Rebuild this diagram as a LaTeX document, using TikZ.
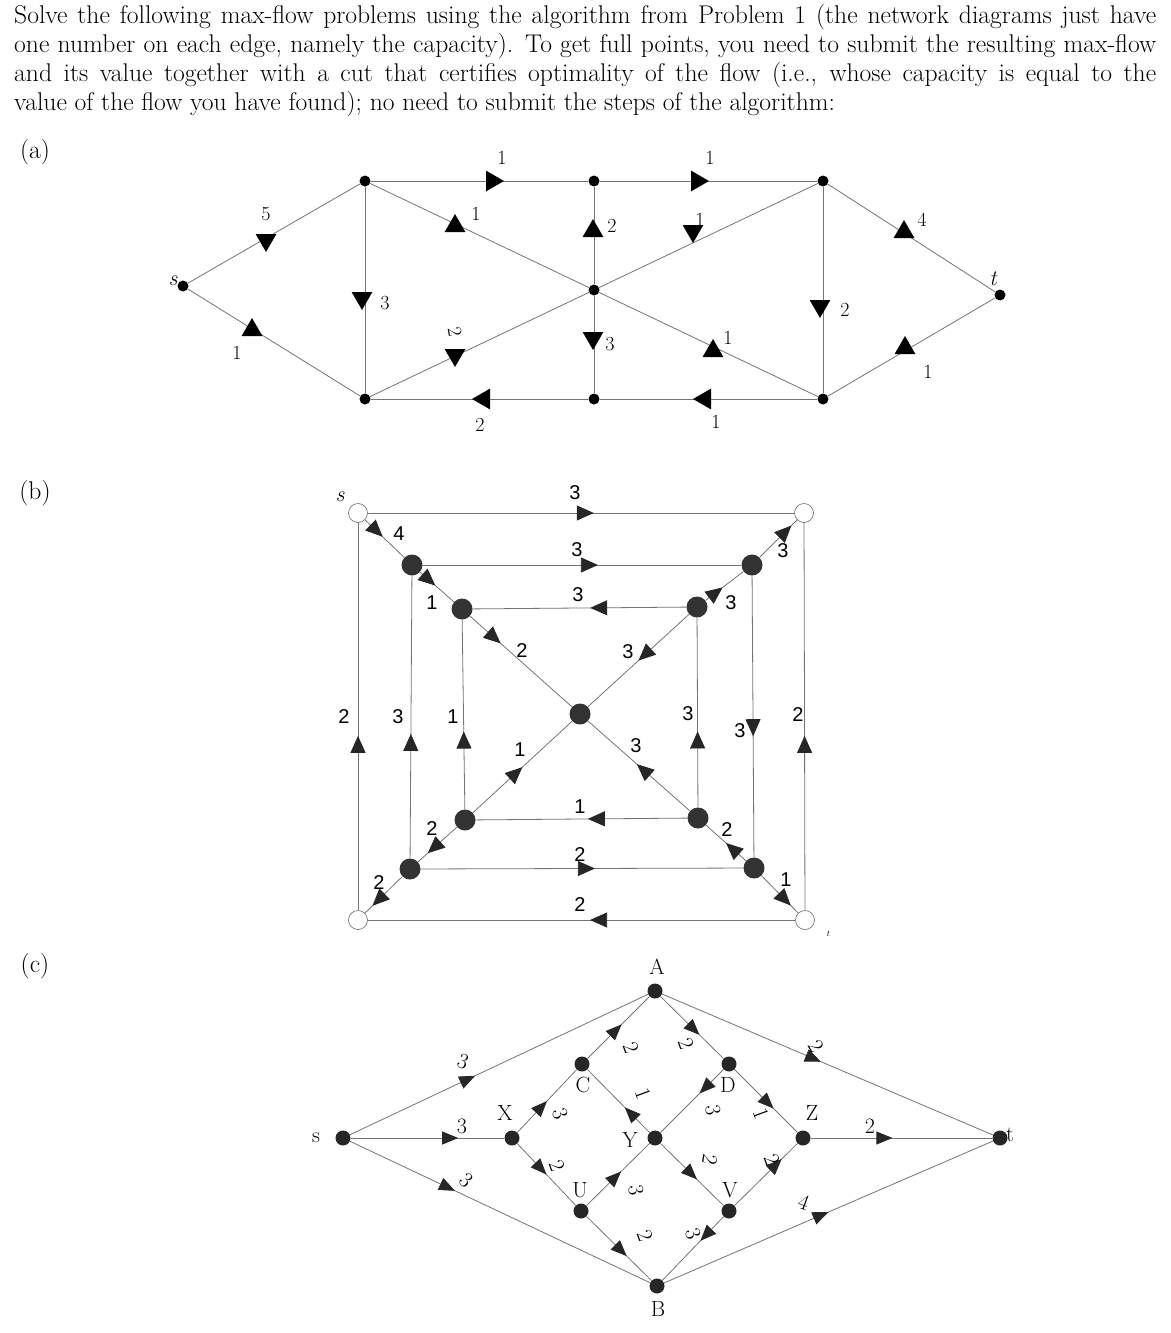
\documentclass[tikz,border=0pt]{standalone}
\usepackage{fontspec}
\newfontfamily\sans{Liberation Sans}
\usetikzlibrary{shapes.geometric,arrows.meta,decorations.markings}
\begin{document}
\begin{tikzpicture}[x=1pt,y=-1pt,
  dot/.style={circle,fill=black,inner sep=0,minimum size=11pt},
  bdot/.style={circle,fill=black!80,inner sep=0,minimum size=21pt},
  odot/.style={circle,draw=black!60,fill=white,inner sep=0,minimum size=19pt,line width=0.6pt},
  cdot/.style={circle,fill=black!85,inner sep=0,minimum size=15pt},
  tri/.style={regular polygon,regular polygon sides=3,fill=black,inner sep=0,minimum size=24pt},
  ed/.style={draw=black!55,line width=0.8pt},
  mk/.style={postaction={decorate,decoration={markings,mark=at position #1 with {\arrow[black!85]{Triangle[length=17pt,width=15pt]}}}}},
  mc/.style={postaction={decorate,decoration={markings,mark=at position #1 with {\arrow[black!85]{Triangle[length=16pt,width=13pt]}}}}},
  la/.style={font=\fontsize{20}{22}\selectfont},
  lb/.style={font=\sans\fontsize{20}{22}\selectfont},
  lc/.style={font=\fontsize{22}{24}\selectfont}]
\useasboundingbox (0,0) rectangle (1170,1333);
\node[anchor=north west,inner sep=0,text width=1142pt,align=justify,font=\fontsize{25.6}{29}\selectfont] (head) at (14,4)
{Solve the following max-flow problems using the algorithm from Problem 1 (the network diagrams just have\linebreak one number on each edge, namely the capacity). To get full points, you need to submit the resulting max-flow\linebreak and its value together with a cut that certifies optimality of the flow (i.e., whose capacity is equal to the\linebreak value of the flow you have found); no need to submit the steps of the algorithm:};
\node[font=\fontsize{25.6}{29}\selectfont] (pa) at (35,152) {(a)};
\node[font=\fontsize{25.6}{29}\selectfont] (pb) at (35,493) {(b)};
\node[font=\fontsize{25.6}{29}\selectfont] (pc) at (35,966) {(c)};

% ---------- (a)
\node[dot] (s) at (183,286) {};
\node[dot] (TL) at (365,181) {};
\node[dot] (BL) at (365,399) {};
\node[dot] (TM) at (594,181) {};
\node[dot] (CM) at (594,290) {};
\node[dot] (BM) at (594,399) {};
\node[dot] (TR) at (823,181) {};
\node[dot] (BR) at (823,399) {};
\node[dot] (t) at (1000,295) {};
\foreach \a/\b in {s/TL,s/BL,TL/BL,TL/TM,TL/CM,TM/CM,TM/TR,CM/TR,TR/t,TR/BR,CM/BL,CM/BM,CM/BR,BR/t,BM/BL,BR/BM}
  \draw[ed] (\a) -- (\b);
\node[la,font=\itshape\fontsize{22}{24}\selectfont] (ls) at (173,281) {s};
\node[la,font=\itshape\fontsize{22}{24}\selectfont] (lt) at (993,279) {t};
\node[tri,rotate=180] (a1) at (266,240) {}; \node[la] (b1) at (266,214) {5};
\node[tri] (a2) at (252,330) {}; \node[la] (b2) at (237,353) {1};
\node[tri,rotate=180] (a3) at (362,298) {}; \node[la] (b3) at (385,303) {3};
\node[tri,rotate=-90] (a4) at (492,181) {}; \node[la] (b4) at (502,158) {1};
\node[tri] (a5) at (455,226) {}; \node[la] (b5) at (476,214) {1};
\node[tri] (a6) at (593,231) {}; \node[la] (b6) at (612,226) {2};
\node[tri,rotate=-90] (a7) at (697,181) {}; \node[la] (b7) at (710,158) {1};
\node[tri,rotate=180] (a8) at (693,231) {}; \node[la] (b8) at (700,220) {1};
\node[tri] (a9) at (904,232) {}; \node[la] (b9) at (922,220) {4};
\node[tri,rotate=180] (a10) at (820,306) {}; \node[la] (b10) at (845,310) {2};
\node[tri,rotate=180] (a11) at (455,355) {}; \node[la,rotate=-80] (b11) at (455,332) {2};
\node[tri,rotate=180] (a12) at (593,338) {}; \node[la] (b12) at (610,344) {3};
\node[tri] (a13) at (713,351) {}; \node[la] (b13) at (728,338) {1};
\node[tri] (a14) at (905,348) {}; \node[la] (b14) at (928,372) {1};
\node[tri,rotate=90] (a15) at (484,399) {}; \node[la] (b15) at (480,425) {2};
\node[tri,rotate=90] (a16) at (705,399) {}; \node[la] (b16) at (716,422) {1};

% ---------- (b)
\node[odot] (S) at (358,513) {};
\node[odot] (TRo) at (804,513) {};
\node[odot] (BLo) at (358,920) {};
\node[odot] (BRo) at (805,920) {};
\node[bdot] (TL2) at (412,565) {};
\node[bdot] (TR2) at (752,565) {};
\node[bdot] (BL2) at (410,869) {};
\node[bdot] (BR2) at (754,868) {};
\node[bdot] (TL3) at (462,609) {};
\node[bdot] (TR3) at (697,607) {};
\node[bdot] (BL3) at (465,820) {};
\node[bdot] (BR3) at (698,818) {};
\node[bdot] (CC) at (580,714) {};
\draw[ed,mk=0.53] (S) -- (TRo);
\draw[ed,mk=0.55] (TL2) -- (TR2);
\draw[ed,mk=0.45] (TR3) -- (TL3);
\draw[ed,mk=0.47] (BR3) -- (BL3);
\draw[ed,mk=0.54] (BL2) -- (BR2);
\draw[ed,mk=0.48] (BRo) -- (BLo);
\draw[ed,mk=0.45] (BLo) -- (S);
\draw[ed,mk=0.44] (BL2) -- (TL2);
\draw[ed,mk=0.41] (BL3) -- (TL3);
\draw[ed,mk=0.40] (BR3) -- (TR3);
\draw[ed,mk=0.57] (TR2) -- (BR2);
\draw[ed,mk=0.45] (BRo) -- (TRo);
\draw[ed,mk=0.45] (S) -- (TL2);
\draw[ed,mk=0.45] (TL2) -- (TL3);
\draw[ed,mk=0.3] (TL3) -- (CC);
\draw[ed,mk=0.85] (TR2) -- (TRo);
\draw[ed,mk=0.45] (TR3) -- (TR2);
\draw[ed,mk=0.5] (TR3) -- (CC);
\draw[ed,mk=0.5] (BL3) -- (CC);
\draw[ed,mk=0.52] (BR3) -- (CC);
\draw[ed,mk=0.75] (BL3) -- (BL2);
\draw[ed,mk=0.8] (BL2) -- (BLo);
\draw[ed,mk=0.5] (BR2) -- (BR3);
\draw[ed,mk=0.8] (BR2) -- (BRo);
\node[font=\itshape\fontsize{22}{24}\selectfont] (lS) at (340,497) {s};
\node[font=\itshape\fontsize{9}{10}\selectfont] (lT) at (828,934) {t};
\node[lb] (c1) at (575,493) {3};
\node[lb] (c2) at (577,550) {3};
\node[lb] (c3) at (578,595) {3};
\node[lb] (c4) at (580,807) {1};
\node[lb] (c5) at (580,855) {2};
\node[lb] (c6) at (580,905) {2};
\node[lb] (c7) at (344,717) {2};
\node[lb] (c8) at (398,717) {3};
\node[lb] (c9) at (453,717) {1};
\node[lb] (c10) at (688,714) {3};
\node[lb] (c11) at (740,731) {3};
\node[lb] (c12) at (798,715) {2};
\node[lb] (c13) at (399,534) {4};
\node[lb] (c14) at (432,603) {1};
\node[lb] (c15) at (522,651) {2};
\node[lb] (c16) at (783,551) {3};
\node[lb] (c17) at (731,603) {3};
\node[lb] (c18) at (628,652) {3};
\node[lb] (c19) at (520,750) {1};
\node[lb] (c20) at (636,746) {3};
\node[lb] (c21) at (432,829) {2};
\node[lb] (c22) at (379,883) {2};
\node[lb] (c23) at (727,830) {2};
\node[lb] (c24) at (786,880) {1};

% ---------- (c)
\node[cdot] (cs) at (343,1138) {};
\node[cdot] (X) at (512,1138) {};
\node[cdot] (A) at (655,991) {};
\node[cdot] (C) at (582,1064) {};
\node[cdot] (D) at (729,1064) {};
\node[cdot] (Y) at (655,1138) {};
\node[cdot] (U) at (581,1211) {};
\node[cdot] (V) at (729,1211) {};
\node[cdot] (Z) at (803,1138) {};
\node[cdot] (B) at (657,1286) {};
\node[cdot] (ct) at (1000,1138) {};
\draw[ed,mc=0.42] (cs) -- (A);
\draw[ed,mc=0.70] (cs) -- (X);
\draw[ed,mc=0.35] (cs) -- (B);
\draw[ed,mc=0.5] (X) -- (C);
\draw[ed,mc=0.5] (X) -- (U);
\draw[ed,mc=0.55] (C) -- (A);
\draw[ed,mc=0.4] (Y) -- (C);
\draw[ed,mc=0.55] (U) -- (Y);
\draw[ed,mc=0.62] (U) -- (B);
\draw[ed,mc=0.62] (A) -- (D);
\draw[ed,mc=0.38] (D) -- (Y);
\draw[ed,mc=0.58] (Y) -- (V);
\draw[ed,mc=0.38] (V) -- (B);
\draw[ed,mc=0.62] (D) -- (Z);
\draw[ed,mc=0.75] (V) -- (Z);
\draw[ed,mc=0.48] (A) -- (ct);
\draw[ed,mc=0.45] (Z) -- (ct);
\draw[ed,mc=0.5] (B) -- (ct);
\node[lc] (lA) at (657,967) {A};
\node[lc] (lB) at (658,1309) {B};
\node[lc] (lC) at (583,1085) {C};
\node[lc] (lD) at (728,1085) {D};
\node[lc] (lX) at (505,1113) {X};
\node[lc] (lY) at (630,1140) {Y};
\node[lc] (lZ) at (812,1113) {Z};
\node[lc] (lU) at (580,1190) {U};
\node[lc] (lV) at (730,1190) {V};
\node[lc] (lcs) at (316,1138) {s};
\node[lc] (lct) at (1010,1135) {t};
\node[lc,rotate=-20] (d1) at (463,1062) {3};
\node[lc] (d2) at (462,1126) {3};
\node[lc,rotate=-40] (d3) at (466,1180) {3};
\node[lc,rotate=-70] (d4) at (560,1114) {3};
\node[lc,rotate=-70] (d5) at (557,1166) {2};
\node[lc,rotate=-70] (d6) at (631,1048) {2};
\node[lc,rotate=-70] (d7) at (643,1094) {1};
\node[lc,rotate=-80] (d8) at (636,1190) {3};
\node[lc,rotate=-70] (d9) at (645,1236) {2};
\node[lc,rotate=-70] (d10) at (686,1044) {2};
\node[lc,rotate=-80] (d11) at (713,1110) {3};
\node[lc,rotate=-100] (d12) at (710,1160) {2};
\node[lc,rotate=-70] (d13) at (693,1234) {3};
\node[lc,rotate=-70] (d14) at (761,1114) {1};
\node[lc,rotate=-70] (d15) at (772,1160) {2};
\node[lc,rotate=-60] (d16) at (816,1046) {2};
\node[lc] (d17) at (870,1126) {2};
\node[lc,rotate=-20] (d18) at (804,1202) {4};
\end{tikzpicture}
\end{document}
